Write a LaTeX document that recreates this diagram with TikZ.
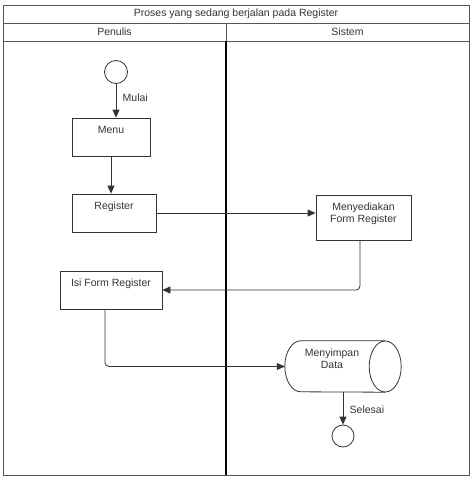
\documentclass[tikz,border=0pt]{standalone}
\usepackage{fontspec}
\setmainfont{Liberation Sans}
\usetikzlibrary{positioning,calc,shapes.geometric,arrows.meta}
\definecolor{ink}{HTML}{333333}
\definecolor{frame}{HTML}{555555}

\begin{document}
\begin{tikzpicture}[x=1pt,y=-1pt,
    font=\fontsize{10.5}{12}\selectfont, text=ink,
    box/.style={draw=ink, line width=0.8pt, inner sep=0pt},
    caption/.style={anchor=north, inner sep=0pt, yshift=-8pt, align=center, text=ink},
    term/.style={draw=ink, line width=0.8pt, circle, inner sep=0pt},
    flow/.style={draw=ink, line width=0.8pt, -{Triangle[length=8pt,width=7pt]}, rounded corners=4pt}]
    \useasboundingbox (0,0) rectangle (474,480);
    \def\L{3}
    \def\R{469}
    \def\T{5}
    \def\B{475}
    \def\M{226}
    \def\cap{16}

    % lanes
    \draw[frame, line width=0.8pt] (\L,\T) rectangle (\R,\B);
    \draw[frame, line width=0.8pt] (\L,23) -- (\R,23);
    \draw[frame, line width=0.8pt] (\L,41) -- (\R,41);
    \draw[frame, line width=0.8pt] (\M,23) -- (\M,41);
    \draw[black, line width=1.6pt] (\M,41) -- (\M,\B);
    \node (title) at (236,14) {Proses yang sedang berjalan pada Register};
    \node (penulis) at (114.5,32) {Penulis};
    \node (sistem) at (347.5,32) {Sistem};

    % nodes
    \node[term, minimum size=23pt] (start) at (116,72) {};
    \node[box, minimum width=78pt, minimum height=38pt, label={[caption]north:Menu}] (menu) at (111,137) {};
    \node[box, minimum width=84pt, minimum height=38pt, label={[caption]north:Register}] (reg) at (114,213) {};
    \node[box, minimum width=95pt, minimum height=45pt, label={[caption]north:Menyediakan\\Form Register}] (form) at (363.5,217.5) {};
    \node[box, minimum width=102pt, minimum height=38pt, label={[caption]north:Isi Form Register}] (isi) at (111,290) {};
    \node[inner sep=0pt, minimum width=116pt, minimum height=51pt,
          label={[caption, xshift=-11pt]north:Menyimpan\\Data}] (store) at (343,366.5) {};
    \node[term, minimum size=22pt] (stop) at (343,436) {};

    % cylinder for the data store
    \draw[draw=ink, line width=0.8pt] ($(store.north east)+(-\cap,0)$) -- ($(store.north west)+(\cap,0)$)
        arc[start angle=270, end angle=90, x radius=\cap, y radius=25.5] -- ($(store.south east)+(-\cap,0)$);
    \draw[draw=ink, line width=0.8pt] ($(store.east)+(-\cap,0)$) ellipse[x radius=\cap, y radius=25.5];

    % connectors
    \draw[flow] (start) -- (start |- menu.north) node[pos=0.42, right=3pt] (mulai) {Mulai};
    \draw[flow] (menu.south) -- (menu.south |- reg.north);
    \draw[flow] (reg.east) -- (form.west |- reg.east);
    \draw[flow] ([xshift=-3.5pt]form.south) |- (isi.east);
    \draw[flow] ([xshift=-6pt]isi.south) |- (store.west);
    \draw[flow] (store.south) -- (stop.north) node[pos=0.55, right=3pt] (selesai) {Selesai};
\end{tikzpicture}
\end{document}
